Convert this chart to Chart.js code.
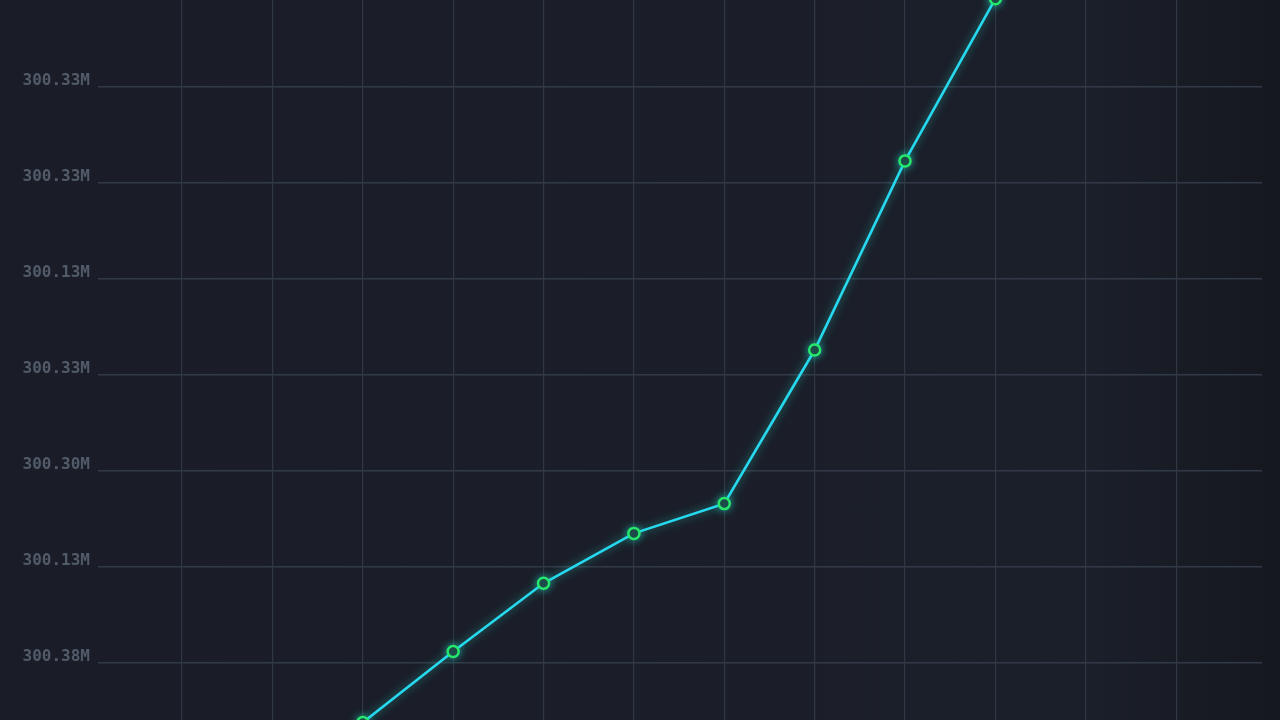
<!DOCTYPE html>
<html>
<head>
<meta charset="utf-8">
<script src="https://cdn.jsdelivr.net/npm/chart.js@4/dist/chart.umd.min.js"></script>
<style>
  html, body { margin: 0; padding: 0; }
  body {
    width: 1280px; height: 720px; overflow: hidden;
    background: linear-gradient(90deg, #1a1d28 0%, #1b1f2a 85%, #15181f 100%);
  }
  #wrap { position: relative; width: 1280px; height: 720px; }
</style>
</head>
<body>
<div id="wrap"><canvas id="lineChart"></canvas></div>
<script>
// x positions of the points (one per vertical grid line)
var xValues = [3, 4, 5, 6, 7, 8, 9, 10];
// series values, in grid units
var yValues = [-0.62, 0.12, 0.83, 1.35, 1.66, 3.26, 5.23, 6.92];
// tick labels, bottom to top
var yTickValues = [0, 1, 2, 3, 4, 5, 6];
var yTickLabels = ["300.38M", "300.13M", "300.30M", "300.33M", "300.13M", "300.33M", "300.33M"];
var xTickValues = [1, 2, 3, 4, 5, 6, 7, 8, 9, 10, 11, 12];

var points = xValues.map(function (x, i) { return { x: x, y: yValues[i] }; });

// soft glow under the line and markers
var glow = {
  id: 'glow',
  beforeDatasetsDraw: function (chart) {
    var ctx = chart.ctx;
    ctx.save();
    ctx.shadowColor = 'rgba(40, 220, 200, 0.6)';
    ctx.shadowBlur = 8;
  },
  afterDatasetsDraw: function (chart) {
    chart.ctx.restore();
  }
};

var ctx = document.getElementById('lineChart').getContext('2d');
var chart = new Chart(ctx, {
  type: 'line',
  data: {
    datasets: [{
      data: points,
      borderColor: '#27d9ee',
      borderWidth: 2.6,
      pointRadius: 5.5,
      pointBorderWidth: 2.5,
      pointBorderColor: '#25e86a',
      pointBackgroundColor: '#1b2a2c',
      tension: 0
    }]
  },
  plugins: [glow],
  options: {
    responsive: true,
    maintainAspectRatio: false,
    animation: false,
    layout: { autoPadding: false, padding: { left: 0, right: 18, top: 0, bottom: 0 } },
    plugins: { legend: { display: false }, tooltip: { enabled: false } },
    scales: {
      x: {
        type: 'linear',
        min: 0.07,
        max: 12.95,
        afterBuildTicks: function (axis) {
          axis.ticks = xTickValues.map(function (v) { return { value: v }; });
        },
        afterFit: function (axis) { axis.height = 0; },
        ticks: { display: false },
        border: { display: false },
        grid: { color: '#2f3744', lineWidth: 1.2, drawTicks: false }
      },
      y: {
        type: 'linear',
        min: -0.594,
        max: 6.906,
        afterBuildTicks: function (axis) {
          axis.ticks = yTickValues.map(function (v) { return { value: v }; });
        },
        afterFit: function (axis) {
          axis.width = 98;
          axis.paddingTop = 0;
          axis.paddingBottom = 0;
        },
        ticks: {
          padding: 8,
          labelOffset: -6,
          color: '#525b69',
          font: { family: 'DejaVu Sans Mono', size: 16, weight: 'bold' },
          callback: function (value, index) { return yTickLabels[index]; }
        },
        border: { display: false },
        grid: { color: '#323a48', lineWidth: 1.5, drawTicks: false }
      }
    }
  }
});
</script>
</body>
</html>
